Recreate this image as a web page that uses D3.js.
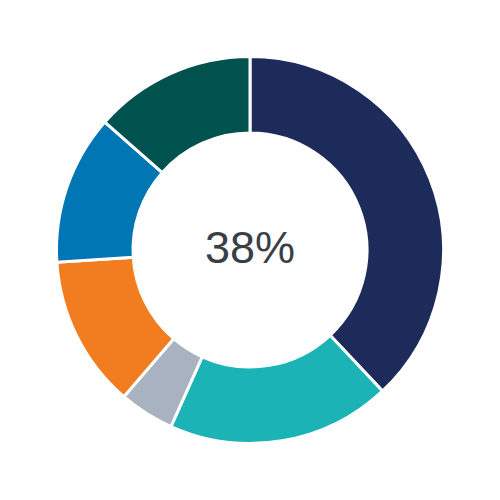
<!DOCTYPE html>
<html>
<head>
<meta charset="utf-8">
<script src="https://cdn.jsdelivr.net/npm/d3@7"></script>
<style>
html,body{margin:0;padding:0;background:#fff;}
</style>
</head>
<body>
<svg id="chart" width="500" height="500"></svg>
<script>
const categories = ["A", "B", "C", "D", "E", "F"];
const values = [38, 18.7, 4.6, 12.7, 12.5, 13.5];
const colors = ["#1d2b5b", "#1bb3b5", "#a9b2c0", "#f27d20", "#0176b4", "#00524f"];
const centerLabel = "38%";

const svg = d3.select("#chart");
const g = svg.append("g").attr("transform", "translate(250,250)");
const pie = d3.pie().sort(null).value(d => d.v);
const arc = d3.arc().innerRadius(117).outerRadius(193.5);
const data = categories.map((c, i) => ({c, v: values[i]}));
g.selectAll("path").data(pie(data)).join("path")
  .attr("d", arc)
  .attr("fill", (d, i) => colors[i])
  .attr("stroke", "#fff")
  .attr("stroke-width", 3);
g.append("text")
  .attr("x", 0).attr("y", 12.5)
  .attr("text-anchor", "middle")
  .attr("font-family", "Liberation Sans, Arial, sans-serif")
  .attr("font-size", 45)
  .attr("fill", "#3a3f47")
  .text(centerLabel);
</script>
</body>
</html>
